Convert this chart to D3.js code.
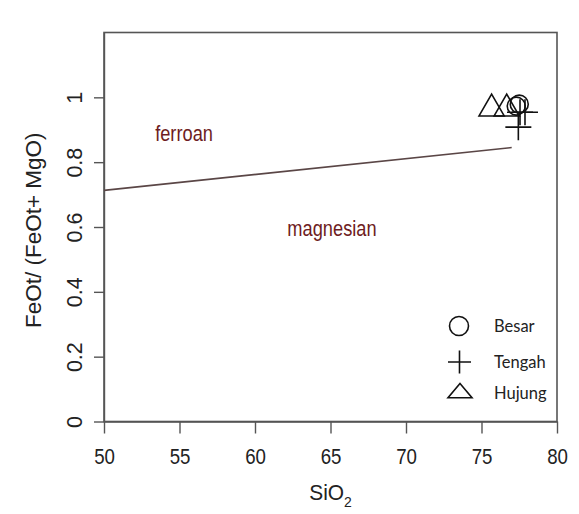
<!DOCTYPE html>
<html><head><meta charset="utf-8">
<script src="https://cdn.jsdelivr.net/npm/d3@7"></script>
<style>
body{margin:0;background:#fff;}
.ar{font-family:"Liberation Sans",Arial,Helvetica,sans-serif;}
</style></head><body>
<svg id="c" width="579" height="514"></svg>
<script>
// ---- data ----
const xTicks = [50,55,60,65,70,75,80];
const yTicks = [0,0.2,0.4,0.6,0.8,1];
const yTickLabels = ["0","0.2","0.4","0.6","0.8","1"];
// ferroan / magnesian boundary (SiO2, FeOt/(FeOt+MgO))
const boundaryX = [50,77];
const boundaryY = [0.713,0.845];
// samples
const besarSiO2 = [77.3,77.5];
const besarFe   = [0.973,0.979];
const tengahSiO2 = [77.44,77.55,77.88];
const tengahFe   = [0.908,0.954,0.954];
const hujungSiO2 = [75.67,76.67];
const hujungFe   = [0.965,0.965];
const legendLabels = ["Besar","Tengah","Hujung"];
const regionLabels = [{t:"ferroan",x:55.3,y:0.89},{t:"magnesian",x:65.1,y:0.596}];

const svg = d3.select("#c");
const x = d3.scaleLinear().domain([50,80]).range([104,557]);
const y = d3.scaleLinear().domain([0,1.2]).range([421.5,32.5]);
const axisCol = "#555";

// box
svg.append("rect").attr("x",x(50)).attr("y",y(1.2)).attr("width",x(80)-x(50)).attr("height",y(0)-y(1.2))
  .attr("fill","none").attr("stroke",axisCol).attr("stroke-width",1.6);

// axes
const gx = svg.append("g").attr("transform",`translate(0,${y(0)})`)
  .call(d3.axisBottom(x).tickValues(xTicks).tickSize(12).tickSizeOuter(0).tickFormat(d3.format("d")));
const gy = svg.append("g").attr("transform",`translate(${x(50)},0)`)
  .call(d3.axisLeft(y).tickValues(yTicks).tickSize(10).tickSizeOuter(0).tickFormat((d,i)=>yTickLabels[i]));
[gx,gy].forEach(g=>{
  g.select(".domain").attr("stroke",axisCol).attr("stroke-width",1.4);
  g.selectAll(".tick line").attr("stroke",axisCol).attr("stroke-width",1.4);
  g.selectAll("text").attr("class","ar").attr("fill","#222");
});
gx.selectAll(".tick text").attr("dy",null).attr("y",null).attr("font-size",22.5)
  .attr("transform","translate(0,42) scale(0.83,1)");
gy.selectAll(".tick text").attr("x",null).attr("dy",null).attr("text-anchor","middle").attr("font-size",21.5)
  .attr("transform","translate(-22.5,0) rotate(-90)");

// axis titles
const xt = svg.append("text").attr("class","ar").attr("transform",`translate(${x(65)},500) scale(0.93,1)`).attr("text-anchor","middle")
  .attr("font-size",22.5).attr("fill","#222");
xt.append("tspan").text("SiO");
xt.append("tspan").attr("font-size",15).attr("dy",7).text("2");
svg.append("text").attr("class","ar").attr("transform",`translate(41,${y(0.59)}) rotate(-90)`)
  .attr("text-anchor","middle").attr("font-size",22.5).attr("fill","#222")
  .text("FeOt/ (FeOt+ MgO)");

// boundary line
svg.append("path").datum(boundaryX.map((d,i)=>[d,boundaryY[i]]))
  .attr("d",d3.line().x(d=>x(d[0])).y(d=>y(d[1])))
  .attr("fill","none").attr("stroke","#5a4646").attr("stroke-width",1.6);

// region labels
svg.selectAll("text.reg").data(regionLabels).join("text").attr("class","reg ar")
  .attr("transform",d=>`translate(${x(d.x)},${y(d.y)}) scale(0.83,1)`).attr("text-anchor","middle").attr("dy","0.35em")
  .attr("font-size",22).attr("fill","#6e1c22").text(d=>d.t);

// markers
const mk = "#111";
function circle(g,cx,cy,r){g.append("circle").attr("cx",cx).attr("cy",cy).attr("r",r).attr("fill","none").attr("stroke",mk).attr("stroke-width",1.6);}
function plus(g,cx,cy,h){g.append("path").attr("d",`M${cx-h},${cy}H${cx+h}M${cx},${cy-h}V${cy+h}`).attr("stroke",mk).attr("stroke-width",1.6).attr("fill","none");}
function tri(g,cx,cy,r,hw){g.append("path").attr("d",`M${cx},${cy-r}L${cx+hw},${cy+r/2}L${cx-hw},${cy+r/2}Z`).attr("stroke",mk).attr("stroke-width",1.6).attr("fill","none");}
const pts = svg.append("g");
hujungSiO2.forEach((d,i)=>tri(pts,x(d),y(hujungFe[i]),14.5,12.6));
besarSiO2.forEach((d,i)=>circle(pts,x(d),y(besarFe[i]),9));
tengahSiO2.forEach((d,i)=>plus(pts,x(d),y(tengahFe[i]),13));

// legend
const lg = svg.append("g");
const ly = [326,362,393];
circle(lg,459,ly[0],9.5);
plus(lg,459.5,ly[1],11.5);
tri(lg,460,ly[2],9.5,12);
lg.selectAll("text").data(legendLabels).join("text")
  .attr("x",494).attr("y",(d,i)=>ly[i]+5.5).attr("font-family","Lato, 'Open Sans', sans-serif")
  .attr("font-size",16.5).attr("fill","#222").text(d=>d);
</script></body></html>
